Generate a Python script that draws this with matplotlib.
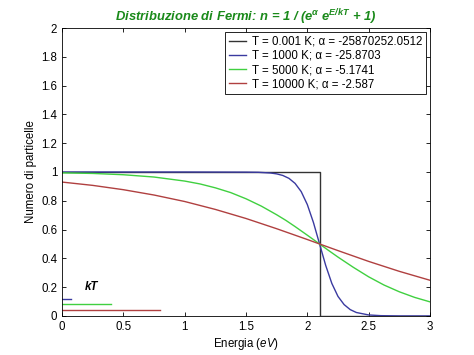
import numpy as np
import matplotlib
matplotlib.use("Agg")
import matplotlib.pyplot as plt

plt.rcParams["font.family"] = ["Liberation Sans", "DejaVu Sans"]
plt.rcParams["mathtext.fontset"] = "custom"
plt.rcParams["mathtext.rm"] = "Liberation Sans"
plt.rcParams["mathtext.it"] = "Liberation Sans:italic"
plt.rcParams["mathtext.bf"] = "Liberation Sans:bold:italic"

# values (energy in eV, occupation number)
e_black = [0, 2.1, 2.1, 3.0]
n_black = [1, 1, 0, 0]

e_blue = [0, 0.5, 1.0, 1.5, 1.6, 1.7, 1.75, 1.8, 1.85, 1.9, 1.95, 2.0, 2.05, 2.1,
          2.15, 2.2, 2.25, 2.3, 2.35, 2.4, 2.5, 2.6, 2.75, 3.0]
n_blue = [1.0, 1.0, 1.0, 0.999, 0.998, 0.993, 0.987, 0.976, 0.956, 0.921, 0.864, 0.774,
          0.649, 0.5, 0.351, 0.226, 0.136, 0.079, 0.044, 0.024, 0.007, 0.002, 0.0003, 0.0]

e_green = [0, 0.25, 0.5, 0.75, 1.0, 1.125, 1.25, 1.375, 1.5, 1.625, 1.75, 1.825, 1.9,
           2.0, 2.1, 2.175, 2.25, 2.375, 2.5, 2.625, 2.75, 2.875, 3.0]
n_green = [0.994, 0.990, 0.981, 0.965, 0.937, 0.917, 0.890, 0.857, 0.814, 0.763, 0.703,
           0.664, 0.621, 0.561, 0.5, 0.454, 0.409, 0.338, 0.272, 0.215, 0.168, 0.129, 0.098]

e_red = [0, 0.25, 0.5, 0.75, 1.0, 1.25, 1.5, 1.75, 2.0, 2.1, 2.25, 2.5, 2.75, 3.0]
n_red = [0.930, 0.907, 0.877, 0.840, 0.795, 0.740, 0.677, 0.606, 0.531, 0.5, 0.454,
         0.379, 0.310, 0.248]

labels = ["T = 0.001 K; \u03b1 = -25870252.0512",
          "T = 1000 K; \u03b1 = -25.8703",
          "T = 5000 K; \u03b1 = -5.1741",
          "T = 10000 K; \u03b1 = -2.587"]
colors = ["#333333", "#3a3aa0", "#40d040", "#b04040"]

# kT markers: length and height
kt_len = [0.0001, 0.07, 0.40, 0.80]
kt_y = [0.16, 0.12, 0.08, 0.04]

fs = 8.3

fig = plt.figure(figsize=(4.74, 3.55), dpi=100)
ax = fig.add_axes([0.131, 0.110, 0.776, 0.811])

series = [(e_black, n_black), (e_blue, n_blue), (e_green, n_green), (e_red, n_red)]
for (e, n), c, lab in zip(series, colors, labels):
    ax.plot(e, n, color=c, lw=1.0, label=lab)

for L, y, c in zip(kt_len, kt_y, colors):
    ax.plot([0, L], [y, y], color=c, lw=1.0)
ax.text(0.24, 0.2, "kT", fontsize=fs, fontweight="bold", fontstyle="italic",
        ha="center", va="center")

ax.set_xlim(0, 3)
ax.set_ylim(0, 2)
ax.set_xticks(np.arange(0, 3.01, 0.5))
ax.set_xticklabels(["0", "0.5", "1", "1.5", "2", "2.5", "3"])
ax.set_yticks(np.arange(0, 2.01, 0.2))
ax.set_yticklabels(["0", "0.2", "0.4", "0.6", "0.8", "1", "1.2", "1.4", "1.6", "1.8", "2"])
ax.tick_params(direction="in", top=True, right=True, labelsize=fs, length=3, width=0.6)
for s in ax.spines.values():
    s.set_linewidth(0.6)

ax.set_xlabel(r"Energia $\mathit{(eV)}$", fontsize=fs, labelpad=2)
ax.set_ylabel("Numero di particelle", fontsize=fs, labelpad=3)
ax.set_title(r"Distribuzione di Fermi: n = 1 / (e$^{\mathbf{\alpha}}$ e$^{\mathbf{E/kT}}$ + 1)",
             fontsize=9.4, color="#1a8a1a", fontweight="bold", fontstyle="italic", pad=5)

leg = ax.legend(loc="upper right", fontsize=fs, frameon=True, fancybox=False,
                edgecolor="black", framealpha=1, borderpad=0.35, labelspacing=0.2,
                handlelength=1.5, handletextpad=0.5, borderaxespad=0.3)
leg.get_frame().set_linewidth(0.6)

fig.savefig("out.png", dpi=100)
